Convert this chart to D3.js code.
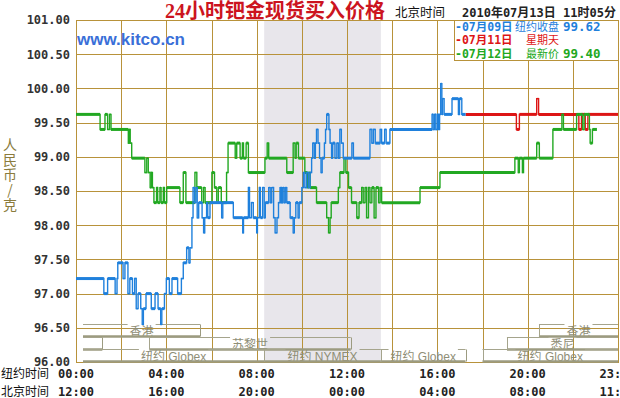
<!DOCTYPE html>
<html>
<head>
<meta charset="utf-8">
<script src="https://cdn.jsdelivr.net/npm/d3@7"></script>
<style>
  body { margin: 0; background: #fff; }
  svg { display: block; }
</style>
</head>
<body>
<svg id="chart" width="620" height="398"></svg>
<script>
// ---- data (time = minutes after 00:00 New York, price = RMB / gram) ----
const yTicks = [96, 96.5, 97, 97.5, 98, 98.5, 99, 99.5, 100, 100.5, 101];
const gridTimes = [0, 120, 240, 360, 480, 600, 720, 840, 960, 1080, 1200, 1320, 1440];
const nyLabels = ["00:00", "04:00", "08:00", "12:00", "16:00", "20:00", "23:59"];
const bjLabels = ["12:00", "16:00", "20:00", "00:00", "04:00", "08:00", "11:59"];
const labelTimes = [0, 240, 480, 720, 960, 1200, 1439];
const nymexWindow = [500, 810];

// 07月09日 (blue) - last point marks the end
const july09 = [
  [0, 97.22], [74, 97.00], [84, 97.22], [104, 97.00], [109, 97.22], [111, 97.45], [125, 97.22],
  [130, 97.45], [138, 97.00], [143, 97.22], [150, 97.00], [156, 97.22], [160, 96.78], [165, 97.00],
  [172, 96.78], [176, 96.55], [179, 96.78], [186, 97.00], [200, 96.78], [210, 97.00], [218, 96.78],
  [225, 96.55], [228, 96.78], [235, 97.00], [240, 97.22], [248, 97.00], [255, 97.22], [270, 97.00],
  [280, 97.22], [285, 97.45], [294, 97.67], [300, 97.45], [303, 97.67], [308, 98.11], [311, 98.55],
  [315, 98.33], [319, 98.55], [322, 98.11], [326, 98.33], [335, 98.11], [339, 97.89], [342, 98.11],
  [347, 98.33], [350, 98.11], [356, 98.33], [387, 98.11], [390, 98.33], [418, 98.11], [443, 97.89],
  [445, 98.11], [458, 98.55], [461, 98.11], [466, 98.33], [471, 98.11], [480, 97.89], [482, 98.11],
  [487, 98.55], [490, 98.11], [496, 98.55], [500, 98.11], [503, 98.33], [512, 98.55], [516, 98.33],
  [520, 98.55], [525, 98.11], [529, 97.89], [534, 98.11], [538, 98.33], [542, 98.55], [544, 98.33],
  [546, 98.55], [548, 98.33], [550, 98.55], [553, 98.33], [556, 98.55], [560, 98.33], [569, 98.11],
  [577, 97.89], [580, 98.11], [584, 98.33], [590, 98.11], [593, 98.33], [600, 98.55], [604, 98.77],
  [608, 98.55], [613, 98.77], [618, 98.55], [622, 98.77], [626, 98.98], [629, 99.20], [633, 98.98],
  [636, 99.20], [639, 99.40], [643, 99.20], [647, 98.98], [651, 98.77], [654, 98.98], [660, 99.20],
  [663, 99.40], [666, 99.62], [672, 99.40], [675, 99.20], [679, 98.98], [682, 99.20], [688, 98.98],
  [693, 99.20], [697, 98.98], [701, 99.40], [705, 99.20], [710, 98.98], [733, 99.20], [737, 98.98],
  [781, 99.40], [786, 99.20], [790, 99.40], [795, 99.20], [808, 99.40], [812, 99.20], [820, 99.40],
  [824, 99.20], [834, 99.40], [946, 99.62], [949, 99.40], [953, 99.62], [956, 99.40], [960, 99.62],
  [963, 99.40], [966, 99.62], [969, 100.07], [972, 99.62], [974, 99.85], [978, 99.62], [999, 99.85],
  [1016, 99.62], [1019, 99.85], [1025, 99.62], [1035, 99.62]
];

// 07月11日 (red)
const july11 = [
  [1035, 99.62], [1170, 99.40], [1178, 99.62], [1224, 99.85], [1229, 99.62], [1336, 99.40],
  [1343, 99.62], [1353, 99.40], [1360, 99.62], [1440, 99.62]
];

// 07月12日 (green)
const july12 = [
  [0, 99.62], [64, 99.40], [77, 99.62], [84, 99.40], [89, 99.62], [93, 99.40], [139, 99.20],
  [142, 99.40], [144, 99.20], [148, 98.98], [183, 98.77], [188, 98.98], [192, 98.77], [197, 98.55],
  [200, 98.77], [203, 98.55], [207, 98.33], [214, 98.55], [217, 98.33], [223, 98.55], [226, 98.33],
  [232, 98.55], [235, 98.33], [241, 98.55], [276, 98.33], [285, 98.77], [292, 98.33], [316, 98.77],
  [321, 98.55], [334, 98.33], [339, 98.55], [343, 98.33], [361, 98.77], [368, 98.55], [374, 98.33],
  [378, 98.55], [386, 98.33], [400, 98.77], [404, 99.20], [423, 98.98], [427, 99.20], [436, 98.98],
  [442, 99.20], [445, 98.98], [452, 99.20], [458, 98.77], [502, 98.98], [508, 99.20], [512, 98.98],
  [560, 98.77], [577, 99.20], [582, 98.98], [585, 99.20], [591, 98.98], [608, 98.77], [615, 98.55],
  [618, 98.77], [622, 98.55], [639, 98.33], [666, 98.11], [671, 97.89], [675, 98.11], [678, 98.33],
  [697, 98.55], [701, 98.77], [712, 98.98], [717, 98.77], [724, 98.55], [732, 98.33], [746, 98.11],
  [752, 98.33], [759, 98.55], [763, 98.33], [768, 98.55], [772, 98.11], [777, 98.55], [781, 98.33],
  [786, 98.55], [792, 98.11], [797, 98.55], [804, 98.33], [808, 98.55], [812, 98.33], [914, 98.55],
  [967, 98.77], [1166, 98.98], [1175, 98.77], [1178, 98.98], [1186, 98.77], [1189, 98.98],
  [1224, 99.20], [1231, 98.98], [1267, 99.40], [1291, 99.62], [1295, 99.40], [1330, 99.62],
  [1346, 99.40], [1350, 99.62], [1364, 99.40], [1366, 99.20], [1372, 99.40], [1384, 99.40]
];

// trading sessions (New York time, minutes)
const sessions = [
  { name: "香港", start: -180, end: 330, row: 0 },
  { name: "香港", start: 1230, end: 1620, row: 0 },
  { name: "悉尼", start: -240, end: 70, row: 1 },
  { name: "苏黎世", start: 195, end: 730, row: 1 },
  { name: "悉尼", start: 1145, end: 1680, row: 1 },
  { name: "纽约 Globex", start: -360, end: 500, row: 2 },
  { name: "纽约 NYMEX", start: 500, end: 810, row: 2 },
  { name: "纽约 Globex", start: 810, end: 1035, row: 2 },
  { name: "纽约 Globex", start: 1080, end: 1800, row: 2 }
];

const legendRows = [
  { date: "07月09日", label: "纽约收盘", value: "99.62", color: "#1f80dc" },
  { date: "07月11日", label: "星期天", value: "", color: "#dd1515" },
  { date: "07月12日", label: "最新价", value: "99.40", color: "#22a822" }
];

// ---- drawing ----
const gridColor = "#b8923a";
const mono = "'DejaVu Sans Mono', 'Noto Sans CJK SC', monospace";
const cjk = "'Noto Sans CJK SC', 'Liberation Sans', sans-serif";

const svg = d3.select("#chart");
const x = d3.scaleLinear().domain([0, 1440]).range([76, 618]);
const y = d3.scaleLinear().domain([96, 101]).range([362, 20]);
const crisp = v => Math.round(v) + 0.5;

svg.append("rect").attr("width", 620).attr("height", 398).attr("fill", "#fff");

// NYMEX floor hours shading
svg.append("rect")
  .attr("x", x(nymexWindow[0]))
  .attr("y", y(101))
  .attr("width", x(nymexWindow[1]) - x(nymexWindow[0]))
  .attr("height", y(96) - y(101))
  .attr("fill", "#e8e6eb");

// grid
svg.append("g").selectAll("line").data(gridTimes).join("line")
  .attr("x1", d => crisp(x(d))).attr("x2", d => crisp(x(d)))
  .attr("y1", y(101)).attr("y2", y(96) + 0.5)
  .attr("stroke", gridColor);
svg.append("g").selectAll("line").data(yTicks).join("line")
  .attr("x1", x(0)).attr("x2", x(1440) + 1)
  .attr("y1", d => crisp(y(d))).attr("y2", d => crisp(y(d)))
  .attr("stroke", gridColor);

// y tick labels
svg.append("g").selectAll("text").data(yTicks).join("text")
  .attr("x", 70).attr("y", d => y(d)).attr("dy", "0.36em")
  .attr("text-anchor", "end")
  .attr("font-family", mono).attr("font-weight", "bold").attr("font-size", 12)
  .attr("fill", "#333")
  .text(d => d.toFixed(2));

// x tick labels, two rows
const xLab = svg.append("g")
  .attr("font-family", mono).attr("font-weight", "bold").attr("font-size", 12)
  .attr("fill", "#222").attr("text-anchor", "middle");
xLab.selectAll(".ny").data(labelTimes).join("text").attr("class", "ny")
  .attr("x", d => x(d)).attr("y", 378).text((d, i) => nyLabels[i]);
xLab.selectAll(".bj").data(labelTimes).join("text").attr("class", "bj")
  .attr("x", d => x(d)).attr("y", 396).text((d, i) => bjLabels[i]);
svg.append("text").attr("x", 1).attr("y", 378).attr("font-family", cjk).attr("font-size", 12)
  .attr("fill", "#111").text("纽约时间");
svg.append("text").attr("x", 1).attr("y", 396).attr("font-family", cjk).attr("font-size", 12)
  .attr("fill", "#111").text("北京时间");

// y axis title, one vertical text
svg.append("text")
  .attr("x", 10).attr("y", 138)
  .attr("font-family", cjk).attr("font-size", 14).attr("fill", "#8a7b3c")
  .style("writing-mode", "vertical-rl")
  .style("text-orientation", "upright")
  .style("letter-spacing", "1px")
  .text("人民币/克");

// trading session boxes
const rowTop = [324, 336.5, 349];
const rowH = 12;
const sessG = svg.append("g");
const xMin = x(0) + 7, xMax = x(1440);
sessions.forEach(s => {
  const x0 = Math.max(x(s.start), xMin), x1 = Math.min(x(s.end), xMax);
  const top = crisp(rowTop[s.row]), bot = top + rowH;
  const g = sessG.append("g");
  const label = g.append("text")
    .attr("x", (x0 + x1) / 2).attr("y", top + 11)
    .attr("text-anchor", "middle")
    .attr("font-family", "'Liberation Sans', 'Noto Sans CJK SC', sans-serif")
    .attr("font-size", 12).attr("fill", "#8f8e76")
    .text(s.name);
  let lw = label.node().getComputedTextLength();
  if (lw + 8 > x1 - x0) { label.remove(); lw = 0; }
  const cx = (x0 + x1) / 2;
  const segs = lw ? [[x0, cx - lw / 2 - 2], [cx + lw / 2 + 2, x1]] : [[x0, x1]];
  segs.forEach(([a, b]) => {
    if (b > a) g.append("line").attr("x1", a).attr("x2", b).attr("y1", top).attr("y2", top)
      .attr("stroke", "#a5a48c").attr("stroke-width", 1);
  });
  g.append("line").attr("x1", x0).attr("x2", x1).attr("y1", bot).attr("y2", bot)
    .attr("stroke", "#9c9b80").attr("stroke-width", 2.5);
  if (x(s.start) > xMin) g.append("line").attr("x1", crisp(x0)).attr("x2", crisp(x0))
    .attr("y1", top).attr("y2", bot).attr("stroke", "#a5a48c");
  if (x(s.end) < xMax) g.append("line").attr("x1", crisp(x1)).attr("x2", crisp(x1))
    .attr("y1", top).attr("y2", bot).attr("stroke", "#9c9b80");
});

// price lines: flat runs drawn heavy, jumps drawn thin
function drawSeries(data, color) {
  const flats = [], jumps = [];
  for (let i = 0; i < data.length - 1; i++) {
    const [t0, p0] = data[i], [t1, p1] = data[i + 1];
    flats.push({ t0, t1, p: p0 });
    if (p1 !== p0) jumps.push({ t: t1, p0, p1 });
  }
  const g = svg.append("g").attr("stroke", color);
  g.selectAll(".flat").data(flats).join("line").attr("class", "flat")
    .attr("x1", d => x(d.t0)).attr("x2", d => x(d.t1))
    .attr("y1", d => y(d.p)).attr("y2", d => y(d.p))
    .attr("stroke-width", d => (d.t1 - d.t0) >= 6 ? 3 : 1.6);
  g.selectAll(".jump").data(jumps).join("line").attr("class", "jump")
    .attr("x1", d => x(d.t)).attr("x2", d => x(d.t))
    .attr("y1", d => y(d.p0)).attr("y2", d => y(d.p1))
    .attr("stroke-width", 1.4).attr("stroke-linecap", "square");
}
drawSeries(july11, legendRows[1].color);
drawSeries(july12, legendRows[2].color);
drawSeries(july09, legendRows[0].color);

// watermark
svg.append("text").attr("x", 77).attr("y", 45)
  .attr("font-family", "'Liberation Sans', Arial, sans-serif").attr("font-weight", "bold")
  .attr("font-size", 17).attr("fill", "#3a6fd8")
  .text("www.kitco.cn");

// title and timestamp
svg.append("text").attr("x", 165).attr("y", 18)
  .attr("font-family", "'Liberation Serif', 'Noto Sans CJK SC', serif").attr("font-weight", "bold")
  .attr("font-size", 20).attr("fill", "#cc1420")
  .text("24小时钯金现货买入价格");
svg.append("text").attr("x", 395).attr("y", 17)
  .attr("font-family", cjk).attr("font-size", 12.5).attr("fill", "#111")
  .text("北京时间");
svg.append("text").attr("x", 462).attr("y", 17)
  .attr("font-family", mono).attr("font-weight", "bold").attr("font-size", 12).attr("fill", "#222")
  .text("2010年07月13日 11时05分");

// legend
svg.append("rect").attr("x", 454.5).attr("y", 20.5).attr("width", 164).attr("height", 40)
  .attr("fill", "#fff").attr("stroke", gridColor);
const leg = svg.append("g").selectAll("g").data(legendRows).join("g")
  .attr("transform", (d, i) => `translate(0,${31 + i * 13.3})`);
leg.append("text").attr("x", 455)
  .attr("font-family", mono).attr("font-weight", "bold").attr("font-size", 11.5)
  .attr("fill", d => d.color)
  .text(d => "-" + d.date);
leg.append("text").attr("x", 559).attr("text-anchor", "end")
  .attr("font-family", cjk).attr("font-size", 11).attr("fill", d => d.color)
  .text(d => d.label);
leg.append("text").attr("x", 563)
  .attr("font-family", mono).attr("font-weight", "bold").attr("font-size", 12.5)
  .attr("fill", d => d.color)
  .text(d => d.value);
</script>
</body>
</html>
